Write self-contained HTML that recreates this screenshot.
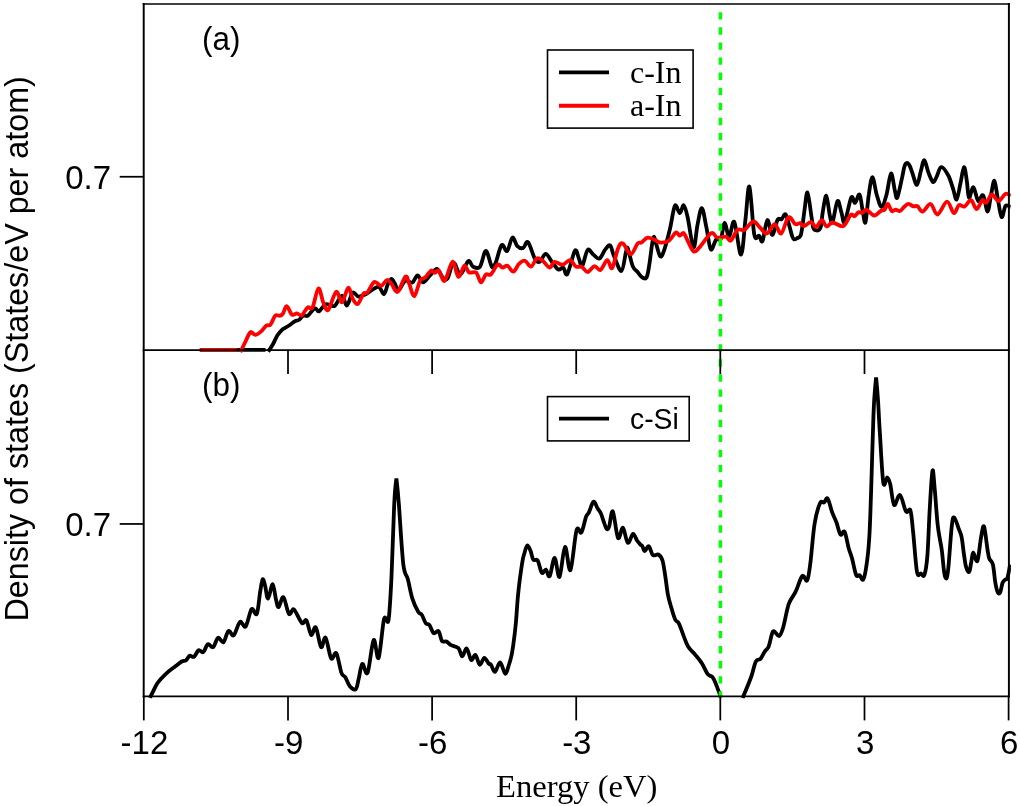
<!DOCTYPE html>
<html lang="en"><head><meta charset="utf-8"><title>Density of states</title>
<style>html,body{margin:0;padding:0;background:#fff}body{width:1020px;height:806px;overflow:hidden}svg{display:block}</style>
</head><body>
<svg width="1020" height="806" viewBox="0 0 1020 806">
<rect width="1020" height="806" fill="#fff"/>
<clipPath id="cp"><rect x="143.7" y="0" width="867.2" height="698.4"/></clipPath>
<g fill="none" stroke-linejoin="bevel" stroke-linecap="butt" clip-path="url(#cp)">
<path d="M149.9 697.9C150.4 696.9 151.7 694.2 152.9 691.9C154.1 689.6 155.4 686.3 156.9 684.0C158.4 681.7 160.0 680.0 161.8 678.0C163.6 676.0 165.5 674.1 167.8 672.1C170.1 670.1 173.4 667.9 175.7 666.1C178.0 664.3 180.0 662.5 181.7 661.5C183.4 660.5 184.8 661.2 186.1 660.2C187.4 659.2 188.4 656.4 189.7 655.8C191.0 655.2 192.5 657.7 194.0 656.8C195.5 655.9 197.1 651.0 198.6 650.2C200.1 649.4 201.6 653.2 203.2 652.2C204.8 651.2 206.2 645.1 207.9 644.3C209.6 643.5 211.4 648.3 213.1 647.2C214.8 646.1 216.4 638.5 218.1 637.7C219.8 636.9 221.7 643.4 223.4 642.3C225.1 641.2 226.7 632.2 228.4 631.0C230.1 629.8 231.8 636.8 233.7 635.3C235.6 633.8 237.9 623.5 239.9 622.0C241.9 620.5 243.8 628.5 245.7 626.4C247.6 624.2 249.8 611.2 251.6 609.1C253.4 607.0 255.4 616.8 256.8 613.9C258.2 611.0 259.2 597.4 260.2 591.6C261.2 585.8 261.9 580.3 262.7 579.3C263.5 578.3 264.2 582.5 265.1 585.7C266.0 588.9 266.8 598.9 268.1 598.6C269.4 598.3 271.4 583.9 272.7 584.1C274.0 584.3 275.0 595.8 276.0 599.6C277.0 603.4 277.4 607.5 278.6 607.1C279.8 606.7 281.7 596.1 283.4 597.2C285.1 598.3 287.2 611.9 289.0 613.9C290.8 615.9 291.8 608.0 293.9 609.5C296.0 611.0 299.8 621.2 301.9 623.0C304.0 624.8 304.8 618.4 306.4 620.4C307.9 622.4 309.6 633.7 311.2 634.9C312.8 636.1 314.1 625.3 315.8 627.4C317.5 629.5 319.5 645.5 321.1 647.2C322.7 648.9 323.9 635.9 325.6 637.8C327.3 639.7 329.4 655.9 331.2 658.5C333.0 661.1 334.6 650.8 336.3 653.2C338.0 655.6 339.9 668.8 341.4 672.8C342.9 676.8 343.9 675.1 345.3 677.3C346.7 679.5 348.1 684.2 349.8 686.2C351.5 688.2 354.2 690.4 355.7 689.2C357.2 688.0 357.6 683.0 358.7 678.8C359.8 674.6 360.8 664.9 362.3 663.9C363.8 662.9 365.7 676.8 367.6 672.8C369.5 668.8 371.8 642.5 373.6 640.0C375.4 637.5 376.9 661.4 378.6 657.9C380.3 654.4 382.4 625.5 384.0 619.2C385.6 612.9 387.3 626.8 388.5 620.1C389.7 613.4 390.4 598.2 391.4 579.0C392.3 559.8 393.4 521.4 394.2 504.6C395.0 487.9 396.4 478.5 396.4 478.5C396.4 478.5 397.8 490.3 398.9 504.6C400.0 518.9 401.8 551.8 403.3 564.2C404.8 576.6 406.3 573.3 407.8 579.0C409.3 584.7 410.6 592.9 412.3 598.4C414.0 603.9 416.6 609.1 418.2 611.8C419.8 614.5 420.6 612.9 421.8 614.8C423.1 616.7 424.4 621.4 425.7 623.1C427.0 624.8 428.2 623.5 429.5 625.2C430.8 626.9 432.2 632.2 433.7 633.2C435.2 634.2 437.1 629.8 438.5 631.1C439.9 632.4 440.7 639.3 442.0 641.0C443.3 642.7 445.0 640.8 446.5 641.5C448.0 642.2 449.0 644.0 451.0 645.1C453.0 646.2 456.5 646.2 458.4 648.1C460.3 650.0 460.9 656.4 462.3 656.4C463.7 656.4 465.2 647.8 466.7 648.4C468.2 649.0 469.8 658.9 471.2 660.0C472.6 661.1 474.0 654.1 475.4 654.9C476.8 655.7 478.3 664.3 479.8 664.8C481.3 665.3 482.8 658.0 484.3 657.9C485.8 657.8 487.9 662.8 489.0 663.9C490.1 665.0 490.1 663.5 491.1 664.8C492.1 666.1 493.5 672.3 495.0 671.9C496.5 671.5 498.4 662.1 500.1 662.4C501.8 662.7 503.8 673.2 505.2 673.7C506.6 674.2 507.7 668.4 508.7 665.5C509.7 662.6 510.5 659.9 511.3 656.4C512.1 652.9 512.5 650.3 513.3 644.7C514.1 639.1 515.1 631.3 515.9 622.6C516.7 613.9 517.2 602.6 518.3 592.6C519.3 582.6 521.2 569.3 522.2 562.8C523.2 556.2 523.5 556.2 524.4 553.3C525.2 550.4 526.3 545.9 527.3 545.5C528.3 545.1 529.6 548.6 530.6 551.0C531.6 553.4 532.1 558.1 533.3 559.7C534.5 561.3 536.3 558.3 537.7 560.5C539.1 562.7 540.4 571.3 541.8 572.8C543.2 574.3 544.6 569.0 545.9 569.6C547.2 570.2 548.2 578.1 549.7 576.1C551.2 574.1 553.0 557.7 554.6 557.8C556.2 557.9 557.8 578.7 559.5 576.9C561.2 575.1 563.2 548.0 565.0 546.9C566.8 545.8 568.5 572.8 570.4 570.1C572.3 567.4 574.7 536.8 576.5 530.5C578.3 524.2 579.8 534.7 581.4 532.4C583.0 530.1 584.8 520.2 586.0 516.9C587.2 513.6 587.5 515.3 588.7 512.8C590.0 510.3 592.0 502.6 593.5 501.8C595.0 501.0 596.3 506.3 597.5 508.2C598.7 510.1 599.8 511.1 600.8 513.2C601.8 515.3 602.5 518.4 603.5 521.0C604.5 523.6 605.6 527.9 606.6 528.8C607.6 529.7 608.2 529.3 609.2 526.4C610.2 523.5 611.3 509.5 612.8 511.4C614.3 513.3 616.3 535.2 618.0 537.9C619.7 540.6 621.3 527.0 622.9 527.8C624.5 528.6 626.1 541.8 627.8 542.8C629.5 543.8 631.5 534.2 633.0 533.8C634.5 533.4 635.8 538.7 637.0 540.5C638.2 542.3 639.4 543.4 640.3 544.4C641.2 545.4 641.6 545.1 642.4 546.2C643.1 547.3 643.7 551.2 644.8 551.2C645.9 551.2 647.4 545.6 648.8 546.3C650.1 546.9 651.3 553.7 652.9 555.1C654.5 556.5 656.8 553.6 658.4 554.5C660.0 555.4 661.4 557.0 662.5 560.5C663.6 564.0 664.3 569.9 665.2 575.6C666.1 581.3 666.9 589.2 667.9 594.7C668.9 600.2 670.3 604.1 671.5 608.3C672.7 612.5 674.1 617.3 675.3 619.8C676.5 622.3 677.4 620.7 678.8 623.3C680.2 625.9 681.9 631.6 683.5 635.6C685.1 639.6 686.4 643.9 688.4 647.1C690.4 650.3 692.9 652.0 695.2 654.7C697.5 657.4 700.0 660.3 702.0 663.5C704.0 666.7 705.8 671.6 707.5 673.9C709.2 676.2 711.0 675.5 712.4 677.1C713.8 678.7 714.5 680.5 715.7 683.4C716.9 686.3 718.9 691.9 719.8 694.3C720.7 696.6 720.8 697.0 721.0 697.5 M742.5 698.0C742.6 697.8 741.6 700.5 743.1 696.9C744.6 693.3 749.2 682.4 751.3 676.5C753.4 670.6 754.3 664.4 755.9 661.4C757.5 658.4 759.1 660.4 760.6 658.7C762.1 657.0 763.5 653.5 764.9 651.4C766.2 649.3 767.3 649.7 768.7 646.4C770.1 643.1 771.4 633.1 773.1 631.4C774.8 629.7 777.4 636.8 779.1 636.1C780.8 635.4 781.6 632.6 783.2 627.3C784.8 622.0 786.7 610.0 788.7 604.1C790.8 598.2 793.2 596.6 795.5 591.9C797.8 587.2 800.3 577.9 802.3 576.0C804.2 574.1 805.8 582.8 807.2 580.4C808.6 578.0 809.3 571.3 810.5 561.9C811.7 552.5 813.0 533.5 814.6 523.7C816.2 513.9 818.4 506.8 820.0 503.2C821.6 499.6 822.8 503.2 824.1 502.4C825.4 501.6 826.3 496.9 827.7 498.6C829.1 500.3 830.8 508.8 832.3 512.7C833.8 516.7 835.0 518.6 836.4 522.3C837.8 525.9 839.1 533.0 840.5 534.6C841.9 536.2 843.2 529.5 844.6 531.8C846.0 534.1 847.4 543.7 848.7 548.2C850.0 552.8 851.0 554.6 852.2 559.1C853.4 563.6 854.9 572.3 856.1 575.0C857.3 577.7 858.4 574.5 859.6 575.2C860.8 575.9 862.1 581.4 863.3 579.4C864.5 577.4 865.7 571.2 866.8 563.0C867.9 554.8 868.7 550.6 869.7 530.0C870.7 509.4 872.0 460.8 872.7 439.4C873.4 418.0 873.5 412.0 874.1 401.7C874.7 391.4 876.1 377.5 876.1 377.5C876.1 377.5 877.5 392.4 878.1 401.7C878.7 411.0 879.0 420.0 879.9 433.5C880.8 447.0 882.1 475.3 883.3 482.6C884.5 489.9 886.1 477.2 887.2 477.5C888.4 477.8 889.1 479.5 890.2 484.1C891.4 488.7 892.5 503.1 894.1 504.9C895.7 506.7 898.0 494.0 900.0 495.1C902.0 496.2 904.3 509.0 906.0 511.5C907.7 514.0 909.2 506.9 910.4 510.3C911.6 513.7 912.0 521.4 913.1 531.7C914.2 542.0 915.7 565.0 917.0 571.9C918.3 578.8 919.7 572.9 920.9 573.4C922.1 573.9 923.3 577.9 924.4 574.9C925.5 571.9 926.5 566.7 927.4 555.5C928.3 544.3 928.9 522.0 929.8 507.9C930.6 493.8 931.7 473.7 932.5 470.7C933.3 467.7 933.9 480.8 934.8 490.0C935.7 499.2 936.6 515.9 937.8 525.8C938.9 535.7 940.7 542.3 941.7 549.6C942.7 556.9 943.2 564.9 943.8 569.5C944.4 574.1 944.8 576.0 945.3 577.3C945.8 578.6 946.5 579.2 947.0 577.2C947.5 575.2 947.8 573.6 948.6 565.0C949.4 556.4 950.9 533.7 951.8 525.8C952.7 517.9 953.1 516.9 954.2 517.4C955.4 517.9 957.5 525.4 958.7 528.7C959.9 532.0 960.7 532.9 961.6 537.1C962.5 541.3 963.2 549.2 963.9 553.9C964.6 558.6 965.0 562.6 965.7 565.5C966.4 568.4 967.2 570.5 967.9 571.4C968.5 572.3 969.0 572.8 969.6 570.9C970.2 569.0 971.0 563.0 971.6 560.0C972.2 557.0 972.3 552.5 973.3 552.6C974.3 552.8 976.1 563.4 977.4 560.9C978.7 558.4 979.9 543.5 981.0 537.7C982.1 532.0 982.9 524.4 984.0 526.4C985.1 528.4 986.6 544.2 987.5 549.6C988.4 555.0 988.4 556.0 989.3 558.5C990.2 561.0 991.9 560.5 992.9 564.5C993.9 568.5 994.5 577.9 995.3 582.5C996.1 587.1 996.9 590.6 997.7 592.3C998.5 594.0 999.3 594.2 1000.1 592.7C1000.9 591.2 1001.7 585.2 1002.5 583.0C1003.3 580.8 1004.2 580.6 1005.0 579.7C1005.8 578.8 1006.5 580.3 1007.4 577.8C1008.3 575.3 1009.7 566.7 1010.2 564.5" stroke="#000" stroke-width="3.8"/>
<path d="M199.8 349.9C210.8 349.9 254.6 349.9 265.5 349.9 M268.2 351.6C269.0 350.4 271.6 346.4 272.8 344.4C274.0 342.4 274.6 340.9 275.3 339.4C276.1 337.9 276.6 336.7 277.3 335.5C278.1 334.3 278.9 333.4 279.8 332.3C280.8 331.2 281.4 330.3 283.0 329.1C284.6 327.9 287.6 326.5 289.5 325.2C291.4 323.9 293.1 322.2 294.7 321.3C296.2 320.4 297.4 320.9 298.8 320.0C300.2 319.1 301.9 316.3 303.4 315.6C304.9 314.9 306.1 316.8 307.6 315.9C309.1 315.0 311.2 311.6 312.5 310.4C313.8 309.1 314.4 308.2 315.5 308.4C316.6 308.6 317.4 312.0 319.0 311.4C320.6 310.8 323.3 305.5 325.3 304.5C327.3 303.5 329.6 305.3 331.2 305.5C332.8 305.7 333.3 307.1 335.1 305.5C336.9 303.9 340.0 295.7 342.0 295.7C344.0 295.7 345.1 306.0 346.9 305.5C348.7 305.0 350.8 294.2 352.7 292.7C354.6 291.2 356.3 296.5 358.6 296.7C360.9 296.9 363.2 295.3 366.5 293.7C369.8 292.1 375.3 286.8 378.2 286.9C381.1 287.0 382.3 294.5 383.9 294.1C385.5 293.7 386.6 286.9 387.8 284.3C389.1 281.8 390.2 279.0 391.4 278.8C392.5 278.6 393.5 281.4 394.7 283.3C395.9 285.2 396.9 290.6 398.6 290.2C400.3 289.8 402.7 282.3 405.0 281.0C407.3 279.7 410.3 283.3 412.4 282.4C414.5 281.5 415.8 275.5 417.6 275.5C419.4 275.5 421.0 282.4 423.1 282.4C425.2 282.4 427.7 277.7 430.0 275.5C432.3 273.3 434.8 268.7 436.9 269.0C439.0 269.3 440.9 275.9 442.7 277.5C444.5 279.1 445.8 280.9 447.6 278.4C449.4 275.9 451.4 263.3 453.5 262.7C455.6 262.1 457.9 274.8 460.4 274.5C462.8 274.2 466.1 262.5 468.2 261.2C470.3 259.9 471.1 265.8 473.1 266.7C475.1 267.6 477.9 269.3 480.0 266.7C482.1 264.1 483.9 251.0 485.9 251.0C487.9 251.0 490.2 264.8 491.8 266.7C493.4 268.6 494.1 266.3 495.7 262.7C497.3 259.1 499.7 247.0 501.6 245.1C503.5 243.2 505.3 252.2 507.1 251.0C508.9 249.8 510.7 238.4 512.4 237.6C514.1 236.8 515.5 244.4 517.3 246.1C519.1 247.8 521.3 248.7 523.1 248.0C524.9 247.3 526.0 240.4 528.0 242.2C530.0 244.0 532.9 255.5 534.9 258.8C536.9 262.1 538.0 262.6 539.8 261.8C541.6 261.0 543.6 253.8 545.7 253.9C547.8 254.1 550.4 260.1 552.5 262.7C554.6 265.3 556.6 268.8 558.4 269.6C560.2 270.4 561.8 266.9 563.3 267.6C564.8 268.4 565.4 276.9 567.3 274.1C569.2 271.3 573.0 253.5 574.9 250.8C576.8 248.2 577.6 255.6 578.8 258.2C580.0 260.8 580.7 267.5 582.2 266.1C583.7 264.7 585.7 251.9 587.6 250.0C589.5 248.1 591.5 253.3 593.5 254.7C595.5 256.1 597.4 259.5 599.4 258.6C601.4 257.7 603.5 251.6 605.3 249.4C607.1 247.2 608.7 244.3 610.2 245.5C611.7 246.7 612.2 252.1 614.1 256.3C616.0 260.6 619.4 271.6 621.4 271.0C623.4 270.4 624.8 256.2 625.9 252.4C627.0 248.6 626.7 246.1 627.8 248.4C628.9 250.7 631.1 262.2 632.7 266.1C634.3 270.0 636.1 270.2 637.6 272.0C639.1 273.8 640.1 276.0 641.6 276.9C643.1 277.8 645.2 279.6 646.5 277.5C647.8 275.4 648.3 270.8 649.4 264.1C650.5 257.5 652.1 240.9 653.3 237.6C654.4 234.3 655.1 241.4 656.3 244.5C657.4 247.6 658.9 255.3 660.2 256.3C661.5 257.3 662.5 255.0 664.1 250.4C665.7 245.8 668.2 236.2 670.0 228.8C671.8 221.4 673.3 208.3 674.9 205.7C676.5 203.1 678.3 213.2 679.8 213.1C681.3 213.0 682.4 204.7 683.7 205.3C685.0 206.0 686.0 210.0 687.6 217.0C689.2 224.0 691.9 246.2 693.5 247.5C695.1 248.8 696.1 231.5 697.5 224.9C698.9 218.3 700.3 207.9 701.8 208.2C703.3 208.5 704.8 220.0 706.3 226.9C707.8 233.8 709.2 247.3 710.8 249.4C712.4 251.5 714.4 241.4 716.1 239.6C717.8 237.8 719.6 241.4 721.0 238.6C722.4 235.8 723.1 223.2 724.5 222.9C725.9 222.6 727.6 236.8 729.2 236.7C730.8 236.5 732.3 219.0 734.3 222.0C736.3 225.0 739.1 255.2 741.0 254.7C742.9 254.2 744.1 230.3 745.5 219.0C746.9 207.7 747.9 184.1 749.4 186.7C750.9 189.3 752.7 226.5 754.3 234.7C755.9 242.9 757.8 234.6 759.2 235.7C760.6 236.8 761.1 243.6 762.5 241.0C763.9 238.4 765.7 221.0 767.3 220.0C768.9 219.0 770.5 234.9 772.2 234.9C773.9 234.9 776.0 222.4 777.6 219.8C779.2 217.2 780.3 220.1 781.6 219.2C782.9 218.3 784.2 213.2 785.5 214.3C786.8 215.4 788.3 222.3 789.4 226.0C790.5 229.7 791.4 234.1 792.2 236.3C793.0 238.5 793.3 239.1 794.2 239.4C795.1 239.7 796.4 238.6 797.5 238.0C798.6 237.4 799.8 237.6 800.6 235.6C801.4 233.6 801.8 229.9 802.4 226.0C803.0 222.1 803.4 218.0 804.2 212.4C805.1 206.8 806.3 191.8 807.5 192.4C808.7 193.1 810.4 210.4 811.4 216.3C812.4 222.2 812.5 225.5 813.2 227.8C813.9 230.1 814.6 230.0 815.6 230.3C816.6 230.6 818.4 230.6 819.3 229.7C820.2 228.8 820.6 227.9 821.2 225.0C821.8 222.1 821.9 217.3 822.7 212.4C823.6 207.5 825.1 195.4 826.3 195.7C827.4 196.0 828.6 209.9 829.6 214.3C830.6 218.7 831.2 224.4 832.5 222.2C833.8 220.0 836.0 202.6 837.5 201.0C839.0 199.4 840.2 208.9 841.4 212.4C842.6 215.9 843.1 224.7 844.7 222.2C846.3 219.7 849.5 200.8 851.2 197.6C852.9 194.4 853.7 203.4 855.1 202.9C856.5 202.4 858.3 193.1 859.6 194.7C860.9 196.3 861.9 207.8 862.9 212.4C863.9 217.0 864.5 225.1 865.5 222.2C866.5 219.2 867.6 202.2 868.8 194.7C869.9 187.2 871.1 177.1 872.4 177.1C873.7 177.1 875.2 189.7 876.7 194.7C878.2 199.7 880.0 206.9 881.6 206.9C883.2 206.9 884.9 200.3 886.5 194.7C888.1 189.1 889.6 174.2 891.0 173.5C892.4 172.8 893.9 186.8 894.9 190.8C895.9 194.8 896.1 199.9 897.3 197.6C898.5 195.3 901.0 182.3 902.2 177.1C903.4 171.9 903.6 168.9 904.4 166.6C905.2 164.2 906.1 163.1 907.0 163.0C907.9 162.9 908.9 164.4 909.8 166.0C910.7 167.6 911.0 169.3 912.2 172.5C913.4 175.7 915.5 185.1 916.9 184.9C918.3 184.7 919.6 175.3 920.8 171.2C922.0 167.1 923.0 159.9 924.3 160.2C925.6 160.5 927.1 169.5 928.6 173.1C930.1 176.7 931.7 181.3 933.0 182.0C934.3 182.7 935.1 179.6 936.5 177.1C937.9 174.6 939.2 167.5 941.2 167.2C943.2 166.9 946.3 171.9 948.3 175.5C950.3 179.1 951.7 184.8 953.1 188.8C954.5 192.8 955.4 200.4 956.6 199.5C957.8 198.6 959.3 188.6 960.5 183.2C961.7 177.8 962.9 167.4 964.0 167.1C965.1 166.8 966.1 176.5 966.9 181.6C967.7 186.7 967.9 196.8 969.0 197.7C970.1 198.6 971.9 186.8 973.4 187.3C974.9 187.9 976.6 199.7 978.2 201.0C979.8 202.3 981.5 193.6 983.1 195.3C984.7 197.1 986.3 211.6 987.6 211.5C988.9 211.4 990.0 199.6 991.1 194.5C992.2 189.4 993.3 180.3 994.4 180.8C995.5 181.3 996.4 191.6 997.6 197.7C998.8 203.8 1000.3 215.8 1001.6 217.1C1002.9 218.4 1004.1 207.5 1005.6 205.8C1007.1 204.1 1009.7 206.9 1010.5 207.1" stroke="#000" stroke-width="3.8"/>
<path d="M199.8 349.9C206.0 349.9 230.8 349.9 237.0 349.9 M240.3 352.0C241.1 350.5 243.6 345.6 244.9 342.8C246.2 340.1 247.3 337.3 248.3 335.5C249.3 333.7 249.6 332.1 250.8 332.0C252.0 331.9 253.9 335.1 255.7 334.9C257.5 334.7 259.8 332.6 261.6 331.0C263.4 329.4 265.0 326.6 266.5 325.5C268.0 324.4 268.9 326.3 270.4 324.7C271.9 323.1 273.7 317.2 275.3 315.7C276.9 314.2 278.9 316.1 280.2 315.7C281.5 315.3 282.0 314.9 283.1 313.3C284.2 311.7 285.2 305.9 286.7 306.1C288.2 306.3 290.3 313.5 292.0 314.7C293.7 315.9 295.3 313.2 296.9 313.3C298.5 313.4 300.0 316.3 301.8 315.3C303.6 314.3 305.8 308.8 307.6 307.5C309.4 306.2 310.7 310.7 312.5 307.5C314.3 304.3 316.6 289.2 318.4 288.4C320.2 287.6 321.7 298.9 323.3 302.5C324.9 306.1 326.1 311.8 328.2 310.0C330.3 308.2 333.8 293.1 336.1 291.8C338.4 290.5 340.0 302.9 342.0 302.2C344.0 301.5 346.4 288.4 348.2 287.8C350.0 287.2 351.1 295.9 352.7 298.6C354.3 301.3 355.8 304.9 357.6 304.1C359.4 303.3 361.9 295.6 363.5 293.7C365.1 291.8 365.7 294.3 367.5 292.4C369.3 290.4 372.0 283.1 374.3 282.0C376.6 280.9 379.1 286.2 381.2 285.9C383.3 285.6 385.1 280.3 386.9 280.0C388.7 279.7 390.0 282.3 391.8 284.3C393.6 286.3 395.3 293.1 397.6 291.8C399.9 290.5 403.5 277.8 405.5 276.5C407.5 275.2 407.9 281.0 409.4 284.3C410.9 287.6 412.5 296.8 414.3 296.1C416.1 295.5 418.4 283.5 420.2 280.4C422.0 277.3 423.3 279.1 425.1 277.5C426.9 275.9 429.4 271.4 431.0 270.6C432.6 269.8 433.6 272.9 434.9 272.9C436.2 272.9 437.2 269.3 438.8 270.6C440.4 271.9 442.4 282.3 444.7 280.8C447.0 279.3 450.2 262.5 452.5 261.8C454.8 261.1 456.4 276.2 458.4 276.9C460.4 277.5 462.5 266.4 464.3 265.7C466.1 265.0 467.2 271.4 469.2 272.5C471.2 273.6 474.1 270.9 476.1 272.5C478.1 274.1 479.4 282.1 481.0 282.4C482.6 282.7 484.3 275.8 485.9 274.5C487.5 273.2 488.9 276.1 490.8 274.5C492.8 272.9 495.7 265.8 497.6 264.7C499.6 263.6 500.9 267.4 502.5 267.6C504.1 267.8 505.7 265.0 507.5 265.7C509.3 266.4 511.3 271.9 513.3 271.6C515.2 271.3 517.2 265.5 519.2 263.7C521.2 261.9 523.1 260.3 525.1 260.8C527.1 261.3 529.0 267.1 531.0 266.7C533.0 266.3 534.9 259.4 536.9 258.4C538.9 257.4 540.6 259.3 542.7 260.8C544.8 262.3 547.6 267.4 549.6 267.6C551.6 267.8 552.4 262.3 554.5 261.8C556.6 261.3 559.8 265.0 562.4 264.7C565.0 264.4 567.8 259.9 570.0 260.2C572.2 260.5 573.9 265.4 575.9 266.5C577.9 267.6 579.8 266.1 581.8 267.0C583.8 267.9 585.5 272.1 587.6 272.0C589.7 271.9 592.4 266.4 594.5 266.1C596.6 265.8 598.3 271.0 600.4 270.0C602.5 269.0 605.3 260.5 607.3 260.2C609.3 259.9 610.4 270.0 612.2 268.0C614.0 266.0 616.2 252.5 618.0 248.4C619.8 244.3 620.8 242.5 622.9 243.5C625.0 244.5 628.3 254.3 630.8 254.3C633.2 254.3 635.8 245.5 637.6 243.5C639.4 241.5 640.0 243.5 641.6 242.5C643.2 241.5 645.4 238.1 647.5 237.6C649.6 237.1 652.2 238.8 654.3 239.6C656.4 240.4 657.8 242.3 660.2 242.5C662.7 242.7 666.4 242.3 669.0 240.6C671.6 238.9 674.1 233.2 675.9 232.4C677.7 231.6 678.5 235.6 679.8 235.7C681.1 235.8 682.4 232.3 683.7 233.1C685.0 233.9 686.0 237.5 687.6 240.6C689.2 243.7 691.5 250.2 693.5 251.4C695.5 252.6 696.4 250.6 699.4 247.5C702.4 244.4 708.2 234.8 711.2 233.1C714.2 231.4 714.7 237.0 717.1 237.6C719.5 238.2 723.6 236.2 725.9 236.7C728.2 237.2 728.8 241.8 730.8 240.6C732.8 239.4 735.3 231.6 737.6 229.8C739.9 228.0 741.9 231.2 744.5 229.8C747.1 228.4 750.7 221.7 753.3 221.4C755.9 221.1 757.9 225.8 760.2 227.8C762.5 229.8 764.5 234.1 766.9 233.5C769.3 232.9 772.3 224.1 774.7 224.1C777.1 224.1 778.9 234.6 781.2 233.5C783.5 232.4 786.0 218.9 788.4 217.3C790.8 215.7 793.3 223.1 795.3 224.1C797.3 225.1 798.7 222.8 800.2 223.1C801.7 223.4 802.3 226.3 804.1 226.1C805.9 225.9 809.0 221.6 811.0 221.8C813.0 222.0 814.1 227.4 815.9 227.1C817.7 226.8 820.0 220.3 821.8 220.2C823.6 220.1 824.9 226.1 826.7 226.5C828.5 226.9 829.7 222.6 832.5 222.5C835.3 222.4 840.3 227.4 843.3 226.1C846.3 224.8 848.8 216.6 850.7 214.9C852.6 213.2 853.3 216.6 854.6 216.2C855.9 215.8 857.2 212.9 858.5 212.3C859.8 211.8 861.1 213.3 862.4 212.9C863.7 212.5 864.4 209.3 866.4 209.7C868.4 210.1 871.8 215.3 874.2 215.5C876.6 215.7 879.0 212.0 880.7 211.0C882.4 210.0 883.4 210.9 884.6 209.7C885.8 208.5 886.6 203.6 887.8 203.8C889.0 204.0 890.4 210.0 891.7 211.0C893.0 212.0 894.3 209.7 895.7 209.7C897.1 209.7 898.5 211.5 900.0 211.0C901.5 210.5 903.1 207.7 904.5 206.5C905.9 205.3 907.1 203.9 908.6 203.9C910.1 203.9 911.7 205.9 913.2 206.3C914.7 206.7 915.9 205.3 917.5 206.2C919.1 207.1 920.4 212.1 922.6 211.7C924.8 211.3 928.1 203.5 930.6 204.0C933.1 204.5 934.8 214.9 937.5 214.5C940.2 214.1 944.3 201.9 947.0 201.7C949.7 201.5 951.9 212.6 953.9 213.2C955.9 213.8 957.1 206.1 958.9 205.0C960.7 203.9 962.5 207.4 964.5 206.6C966.5 205.8 969.0 199.8 971.0 200.2C973.0 200.6 974.7 209.0 976.6 209.0C978.5 209.0 980.7 201.3 982.3 200.2C983.9 199.1 984.7 203.5 986.3 202.6C987.9 201.7 989.9 194.8 991.9 194.5C993.9 194.2 996.1 201.1 998.4 201.0C1000.7 200.9 1003.6 194.5 1005.6 193.7C1007.6 192.9 1009.7 195.7 1010.5 196.1" stroke="#f00" stroke-width="3.8"/>
</g>
<line x1="720.4" y1="12.2" x2="720.4" y2="698.3" stroke="#00ff00" stroke-width="3.45" stroke-dasharray="7.4 7.69" stroke-dashoffset="0"/>
<g stroke="#000" stroke-width="1.75" fill="none">
<line x1="142.725" y1="3.95" x2="1009.88" y2="3.95" stroke-width="1.6"/>
<line x1="142.725" y1="350.05" x2="1009.88" y2="350.05" stroke-width="1.85"/>
<line x1="142.725" y1="696.4" x2="1009.88" y2="696.4" stroke-width="1.8"/>
<line x1="143.7" y1="3.075" x2="143.7" y2="697.275" stroke-width="1.95"/>
<line x1="1008.9" y1="3.075" x2="1008.9" y2="697.275" stroke-width="1.95"/>
<line x1="288.0" y1="350.05" x2="288.0" y2="374.05"/>
<line x1="432.1" y1="350.05" x2="432.1" y2="374.05"/>
<line x1="576.2" y1="350.05" x2="576.2" y2="374.05"/>
<line x1="720.3" y1="350.05" x2="720.3" y2="374.05"/>
<line x1="864.5" y1="350.05" x2="864.5" y2="374.05"/>
<line x1="143.8" y1="696.4" x2="143.8" y2="720.4"/>
<line x1="288.0" y1="696.4" x2="288.0" y2="720.4"/>
<line x1="432.1" y1="696.4" x2="432.1" y2="720.4"/>
<line x1="576.2" y1="696.4" x2="576.2" y2="720.4"/>
<line x1="720.3" y1="696.4" x2="720.3" y2="720.4"/>
<line x1="864.5" y1="696.4" x2="864.5" y2="720.4"/>
<line x1="1008.6" y1="696.4" x2="1008.6" y2="720.4"/>
<line x1="119.7" y1="176.75" x2="143.7" y2="176.75"/>
<line x1="119.7" y1="523.95" x2="143.7" y2="523.95"/>
</g>
<g stroke="#000" stroke-width="1.6" fill="#fff">
<rect x="547.5" y="50" width="145.6" height="78.1"/>
<rect x="547.5" y="396.6" width="141.7" height="44.3"/>
</g>
<g stroke-width="3.9">
<line x1="559" y1="72.4" x2="609" y2="72.4" stroke="#000"/>
<line x1="559" y1="105.8" x2="609" y2="105.8" stroke="#f00"/>
<line x1="559" y1="418.6" x2="609" y2="418.6" stroke="#000"/>
</g>
<g fill="#000" style="font-family:'Liberation Serif','Times New Roman',Times,serif;font-size:32px">
<text x="630" y="82.9">c-In</text>
<text x="630" y="116.3">a-In</text>
<text x="576.7" y="796.5" text-anchor="middle" style="font-size:32.6px">Energy (eV)</text>
</g>
<g fill="#000" style="font-family:'Liberation Sans',Arial,Helvetica,sans-serif;font-size:33px">
<text x="630" y="428.6" style="font-size:29.5px" textLength="48.8" lengthAdjust="spacingAndGlyphs">c-Si</text>
<text x="202" y="50" style="font-size:32.4px" textLength="38.4" lengthAdjust="spacingAndGlyphs">(a)</text>
<text x="202" y="396.4" style="font-size:32.4px" textLength="38.4" lengthAdjust="spacingAndGlyphs">(b)</text>
<text x="144.4" y="754.2" text-anchor="middle">-12</text>
<text x="288.6" y="754.2" text-anchor="middle">-9</text>
<text x="432.7" y="754.2" text-anchor="middle">-6</text>
<text x="576.8" y="754.2" text-anchor="middle">-3</text>
<text x="720.9" y="754.2" text-anchor="middle">0</text>
<text x="865.1" y="754.2" text-anchor="middle">3</text>
<text x="1009.2" y="754.2" text-anchor="middle">6</text>
<text x="111" y="188.65" text-anchor="end">0.7</text>
<text x="111" y="535.85" text-anchor="end">0.7</text>
<text transform="translate(27.7 348.9) rotate(-90)" text-anchor="middle" style="font-size:33.5px" textLength="545.4" lengthAdjust="spacingAndGlyphs">Density of states (States/eV per atom)</text>
</g>
</svg>
</body></html>
